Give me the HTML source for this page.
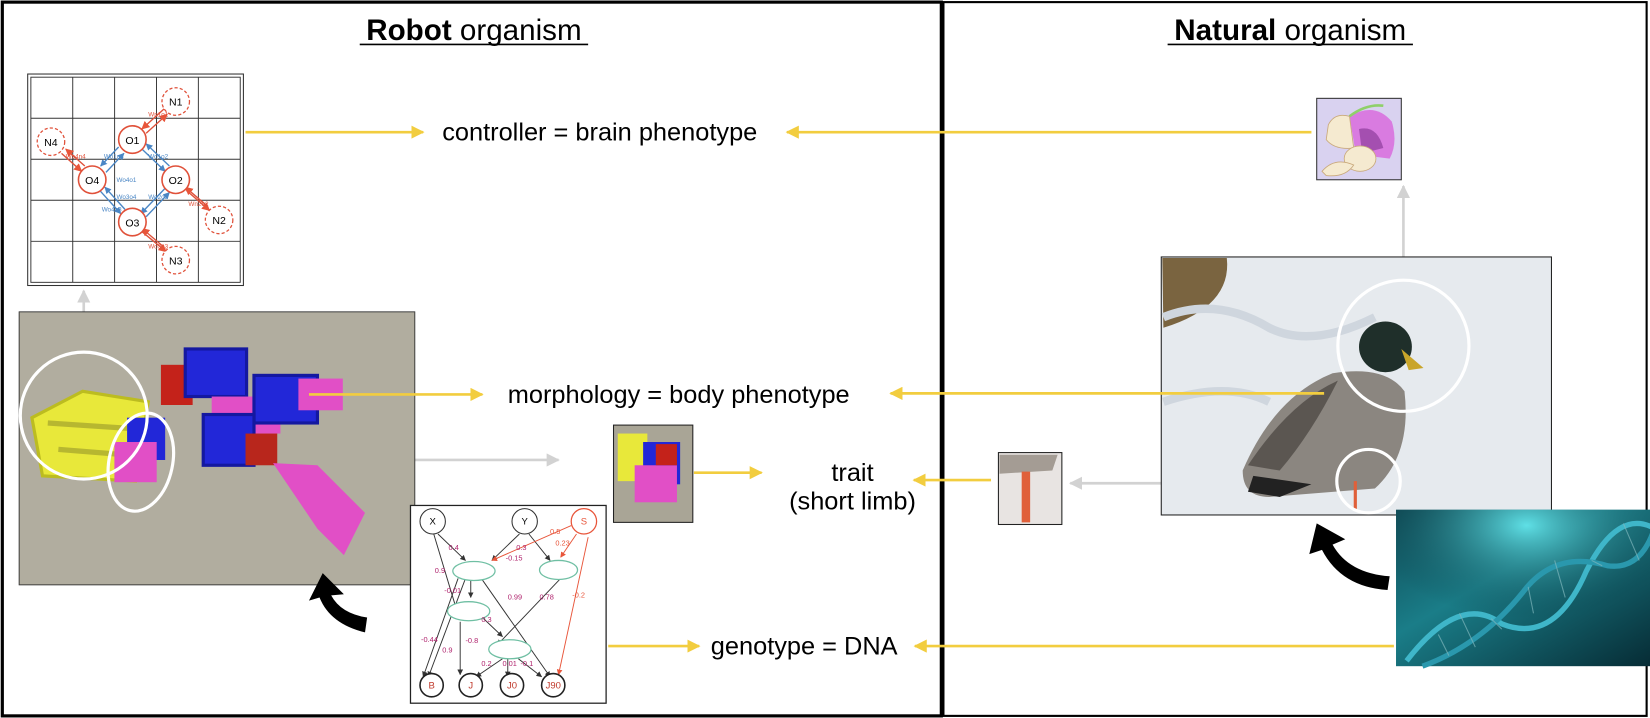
<!DOCTYPE html>
<html><head><meta charset="utf-8"><style>
html,body{margin:0;padding:0;background:#fff;}
svg{display:block;}
text{font-family:"Liberation Sans",Arial,sans-serif;}
</style></head><body>
<svg width="1650" height="718" viewBox="0 0 1560 679" xmlns="http://www.w3.org/2000/svg">
<defs>
<marker id="ay" viewBox="0 0 10 10" refX="9" refY="5" markerWidth="5" markerHeight="5" orient="auto-start-reverse"><path d="M0,0L10,5L0,10z" fill="#f2cd3f"/></marker>
<marker id="ag" viewBox="0 0 10 10" refX="9" refY="5" markerWidth="5" markerHeight="5" orient="auto-start-reverse"><path d="M0,0L10,5L0,10z" fill="#d2d2d2"/></marker>
<marker id="ab" viewBox="0 0 10 10" refX="9" refY="5" markerWidth="6" markerHeight="6" orient="auto"><path d="M0,0L10,5L0,10z" fill="#333"/></marker>
<marker id="ar" viewBox="0 0 10 10" refX="9" refY="5" markerWidth="6" markerHeight="6" orient="auto"><path d="M0,0L10,5L0,10z" fill="#e8553a"/></marker>
<marker id="abl" viewBox="0 0 10 10" refX="9" refY="5" markerWidth="5" markerHeight="5" orient="auto"><path d="M0,0L10,5L0,10z" fill="#4a86c5"/></marker>
<linearGradient id="dna" x1="0" y1="0" x2="1" y2="1"><stop offset="0" stop-color="#0f4a55"/><stop offset="0.4" stop-color="#1a7d88"/><stop offset="1" stop-color="#062a33"/></linearGradient>
<radialGradient id="glow" cx="0.5" cy="0.1" r="0.6"><stop offset="0" stop-color="#5fe0e6"/><stop offset="1" stop-color="#0b3c45" stop-opacity="0"/></radialGradient>
</defs>

<rect x="2" y="2" width="888" height="675" fill="none" stroke="#000" stroke-width="3"/>
<rect x="892" y="2" width="665" height="675" fill="none" stroke="#000" stroke-width="2"/>
<text x="448" y="38" font-size="28" text-anchor="middle"><tspan font-weight="bold">Robot</tspan> organism</text>
<line x1="340" y1="42" x2="556" y2="42" stroke="#000" stroke-width="1.5"/>
<text x="1220" y="38" font-size="28" text-anchor="middle"><tspan font-weight="bold">Natural</tspan> organism</text>
<line x1="1104" y1="42" x2="1336" y2="42" stroke="#000" stroke-width="1.5"/>

<!-- grid -->
<rect x="26" y="70" width="204" height="200" fill="#fff" stroke="#333" stroke-width="1"/>
<g stroke="#333" stroke-width="0.9">
<rect x="29" y="73" width="198" height="194" fill="none"/>
<line x1="68.6" y1="73" x2="68.6" y2="267"/><line x1="108.2" y1="73" x2="108.2" y2="267"/><line x1="147.8" y1="73" x2="147.8" y2="267"/><line x1="187.4" y1="73" x2="187.4" y2="267"/>
<line x1="29" y1="111.8" x2="227" y2="111.8"/><line x1="29" y1="150.6" x2="227" y2="150.6"/><line x1="29" y1="189.4" x2="227" y2="189.4"/><line x1="29" y1="228.2" x2="227" y2="228.2"/>
</g>
<g stroke="#4a86c5" stroke-width="1.3">
<line x1="112" y1="139" x2="95" y2="157" marker-end="url(#abl)"/><line x1="100" y1="163" x2="117" y2="145" marker-end="url(#abl)"/>
<line x1="133" y1="140" x2="156" y2="162" marker-end="url(#abl)"/><line x1="160" y1="157" x2="138" y2="136" marker-end="url(#abl)"/>
<line x1="156" y1="178" x2="133" y2="202" marker-end="url(#abl)"/><line x1="138" y1="205" x2="160" y2="182" marker-end="url(#abl)"/>
<line x1="94" y1="180" x2="114" y2="202" marker-end="url(#abl)"/><line x1="118" y1="198" x2="99" y2="177" marker-end="url(#abl)"/>
</g>
<g stroke="#e0513a" stroke-width="1.3">
<line x1="155" y1="103" x2="134" y2="122" marker-end="url(#ar)"/><line x1="138" y1="126" x2="158" y2="108" marker-end="url(#ar)"/>
<line x1="58" y1="145" x2="77" y2="162" marker-end="url(#ar)"/><line x1="80" y1="157" x2="62" y2="141" marker-end="url(#ar)"/>
<line x1="176" y1="180" x2="198" y2="199" marker-end="url(#ar)"/><line x1="196" y1="195" x2="175" y2="177" marker-end="url(#ar)"/>
<line x1="134" y1="219" x2="157" y2="238" marker-end="url(#ar)"/><line x1="154" y1="233" x2="134" y2="216" marker-end="url(#ar)"/>
</g>
<g fill="#fff" stroke="#e0513a" stroke-width="1.5">
<circle cx="125" cy="132" r="13"/><circle cx="166" cy="170" r="13"/><circle cx="125" cy="210" r="13"/><circle cx="87" cy="170" r="13"/>
</g>
<g fill="#fff" stroke="#e0513a" stroke-width="1.2" stroke-dasharray="3,2">
<circle cx="166" cy="96" r="13"/><circle cx="207" cy="208" r="13"/><circle cx="166" cy="246" r="13"/><circle cx="48" cy="134" r="13"/>
</g>
<g font-size="10" text-anchor="middle" fill="#000">
<text x="125" y="136">O1</text><text x="166" y="174">O2</text><text x="125" y="214">O3</text><text x="87" y="174">O4</text>
<text x="166" y="100">N1</text><text x="207" y="212">N2</text><text x="166" y="250">N3</text><text x="48" y="138">N4</text>
</g>
<g font-size="6" fill="#4a86c5"><text x="98" y="150">Wo1o4</text><text x="140" y="150">Wo1o2</text><text x="110" y="172">Wo4o1</text><text x="110" y="188">Wo3o4</text><text x="140" y="188">Wo2o3</text><text x="96" y="200">Wo4o3</text></g>
<g font-size="6" fill="#e0513a"><text x="140" y="110">Wn1o1</text><text x="62" y="150">Wo4n4</text><text x="178" y="195">Wn2o2</text><text x="140" y="235">Wo3n3</text></g>

<!-- grey arrows -->
<line x1="79" y1="335" x2="79" y2="275" stroke="#d2d2d2" stroke-width="2.5" marker-end="url(#ag)"/>
<line x1="160" y1="435" x2="528" y2="435" stroke="#d2d2d2" stroke-width="2.5" marker-end="url(#ag)"/>
<line x1="1327" y1="265" x2="1327" y2="176" stroke="#d2d2d2" stroke-width="2.5" marker-end="url(#ag)"/>
<line x1="1264" y1="457" x2="1012" y2="457" stroke="#d2d2d2" stroke-width="2.5" marker-end="url(#ag)"/>

<!-- robot photo -->
<rect x="18" y="295" width="374" height="258" fill="#a9a596" stroke="#222" stroke-width="1"/>
<rect x="18" y="295" width="374" height="258" fill="#bdb9ac" opacity="0.4"/>
<g>
<path d="M30,395 L78,370 L140,380 L128,455 L40,450 Z" fill="#e8e83a" stroke="#bcbc20" stroke-width="3"/>
<path d="M45,400 L120,405 M55,425 L118,430" stroke="#b7b730" stroke-width="5"/>
<rect x="152" y="345" width="30" height="38" fill="#c4221a"/>
<rect x="175" y="330" width="58" height="45" fill="#2227d8" stroke="#1418a0" stroke-width="3"/>
<rect x="200" y="375" width="65" height="35" fill="#e14fc6"/>
<rect x="240" y="355" width="60" height="45" fill="#2227d8" stroke="#1418a0" stroke-width="3"/>
<rect x="282" y="358" width="42" height="30" fill="#e14fc6"/>
<rect x="192" y="392" width="48" height="48" fill="#2227d8" stroke="#1418a0" stroke-width="3"/>
<rect x="232" y="410" width="30" height="30" fill="#b8261c"/>
<rect x="120" y="395" width="36" height="40" fill="#2227d8"/>
<rect x="108" y="418" width="40" height="38" fill="#e14fc6"/>
<path d="M258,438 L300,440 L345,485 L325,525 L300,500 Z" fill="#e14fc6"/>
</g>
<circle cx="79" cy="393" r="60" fill="none" stroke="#fff" stroke-width="3"/>
<ellipse cx="133" cy="437" rx="30" ry="47" transform="rotate(12 133 437)" fill="none" stroke="#fff" stroke-width="3"/>

<!-- small trait crop -->
<rect x="580" y="402" width="75" height="92" fill="#a9a596" stroke="#222" stroke-width="1"/>
<rect x="584" y="410" width="28" height="45" fill="#e8e83a"/>
<rect x="608" y="418" width="35" height="40" fill="#2227d8"/>
<rect x="600" y="440" width="40" height="35" fill="#e14fc6"/>
<rect x="620" y="420" width="20" height="20" fill="#c4221a"/>

<!-- CPPN -->
<rect x="388" y="478" width="185" height="187" fill="#fff" stroke="#222" stroke-width="1.2"/>
<g stroke="#333" stroke-width="0.9" fill="none">
<line x1="414" y1="505" x2="440" y2="530" marker-end="url(#ab)"/>
<line x1="410" y1="505" x2="432" y2="578" marker-end="url(#ab)"/>
<line x1="491" y1="505" x2="465" y2="530" marker-end="url(#ab)"/>
<line x1="500" y1="505" x2="520" y2="530" marker-end="url(#ab)"/>
<line x1="445" y1="547" x2="445" y2="565" marker-end="url(#ab)"/>
<line x1="455" y1="547" x2="520" y2="640" marker-end="url(#ab)"/>
<line x1="530" y1="547" x2="470" y2="610" marker-end="url(#ab)"/>
<line x1="455" y1="583" x2="475" y2="602" marker-end="url(#ab)"/>
<line x1="440" y1="547" x2="405" y2="640" marker-end="url(#ab)"/>
<line x1="433" y1="547" x2="400" y2="640" marker-end="url(#ab)"/>
<line x1="435" y1="588" x2="435" y2="638" marker-end="url(#ab)"/>
<line x1="475" y1="623" x2="450" y2="640" marker-end="url(#ab)"/>
<line x1="480" y1="623" x2="480" y2="640" marker-end="url(#ab)"/>
<line x1="490" y1="623" x2="512" y2="640" marker-end="url(#ab)"/>
</g>
<g stroke="#e8553a" stroke-width="0.9"><line x1="540" y1="497" x2="465" y2="530" marker-end="url(#ar)"/><line x1="545" y1="505" x2="530" y2="527" marker-end="url(#ar)"/><line x1="556" y1="508" x2="528" y2="638" marker-end="url(#ar)"/></g>
<g fill="#fff" stroke="#333" stroke-width="1"><circle cx="409" cy="493" r="12"/><circle cx="496" cy="493" r="12"/></g>
<circle cx="552" cy="493" r="12" fill="#fff" stroke="#e8553a" stroke-width="1.2"/>
<g fill="#fff" stroke="#6fbfa3" stroke-width="1.2"><ellipse cx="448" cy="540" rx="20" ry="9"/><ellipse cx="528" cy="539" rx="18" ry="9"/><ellipse cx="443" cy="578" rx="20" ry="9"/><ellipse cx="482" cy="614" rx="20" ry="9"/></g>
<g fill="#fff" stroke="#222" stroke-width="1.5"><circle cx="408" cy="648" r="11"/><circle cx="445" cy="648" r="11"/><circle cx="484" cy="648" r="11"/><circle cx="523" cy="648" r="11"/></g>
<g font-size="9" text-anchor="middle"><text x="409" y="496">X</text><text x="496" y="496">Y</text><text x="552" y="496" fill="#e8553a">S</text></g>
<g font-size="9" text-anchor="middle" fill="#c0392b"><text x="408" y="651">B</text><text x="445" y="651">J</text><text x="484" y="651">J0</text><text x="523" y="651">J90</text></g>
<g font-size="7" fill="#b0246e"><text x="424" y="520">0.4</text><text x="411" y="542">0.9</text><text x="488" y="520">0.3</text><text x="478" y="530">-0.15</text><text x="420" y="561">-0.01</text><text x="480" y="567">0.99</text><text x="510" y="567">0.78</text><text x="455" y="588">0.3</text><text x="398" y="607">-0.44</text><text x="418" y="617">0.9</text><text x="440" y="608">-0.8</text><text x="455" y="630">0.2</text><text x="475" y="630">0.01</text><text x="492" y="630">-0.1</text></g>
<g font-size="7" fill="#e8553a"><text x="520" y="505">0.5</text><text x="525" y="516">0.23</text><text x="541" y="565">-0.2</text></g>

<!-- brain -->
<rect x="1245" y="93" width="80" height="77" fill="#d9d2f0" stroke="#333" stroke-width="1"/>
<path d="M1276,110 Q1300,96 1316,115 Q1322,135 1314,150 L1282,146 Z" fill="#d97be0"/>
<path d="M1276,110 Q1292,98 1308,100" stroke="#8fd06a" stroke-width="2.5" fill="none"/>
<path d="M1285,122 Q1302,118 1308,140 L1288,145 Z" fill="#a44fb0"/>
<path d="M1256,118 Q1262,106 1276,110 L1280,140 Q1262,142 1254,132 Z" fill="#f5ead0" stroke="#c9a97c" stroke-width="0.8"/>
<ellipse cx="1286" cy="150" rx="15" ry="12" fill="#f5ead0" stroke="#c9a97c" stroke-width="0.8"/>
<path d="M1250,162 Q1262,148 1280,156 Q1272,168 1254,166 Z" fill="#f5ead0" stroke="#c9a97c" stroke-width="0.8"/>

<!-- duck photo -->
<rect x="1098" y="243" width="369" height="244" fill="#e6eaee" stroke="#222" stroke-width="1"/>
<path d="M1099,244 L1160,244 Q1165,290 1100,310 Z" fill="#7a6440"/>
<path d="M1100,300 Q1150,280 1200,310 Q1240,330 1300,300 M1100,380 Q1160,360 1200,380" stroke="#cfd6de" stroke-width="8" fill="none"/>
<path d="M1175,445 Q1205,375 1260,353 Q1310,345 1328,370 Q1335,430 1300,462 L1200,470 Q1175,470 1175,445 Z" fill="#8b8680"/>
<path d="M1180,440 Q1220,380 1265,360 Q1240,410 1210,445 Z" fill="#5b5651"/>
<path d="M1185,450 L1240,458 L1210,470 L1180,465 Z" fill="#222"/>
<ellipse cx="1310" cy="328" rx="25" ry="24" fill="#1f2f2a"/>
<path d="M1325,330 L1346,348 L1332,350 Z" fill="#c9a52a"/>
<rect x="1280" y="455" width="3" height="28" fill="#e0603a"/>
<circle cx="1327" cy="327" r="62" fill="none" stroke="#fff" stroke-width="3"/>
<circle cx="1294" cy="455" r="30" fill="none" stroke="#fff" stroke-width="3"/>

<!-- foot crop -->
<rect x="944" y="428" width="60" height="68" fill="#e8e4e2" stroke="#222" stroke-width="1"/>
<path d="M945,430 L1000,430 L995,445 L945,448 Z" fill="#a49c94"/>
<rect x="966" y="446" width="8" height="48" fill="#e0603a"/>

<!-- DNA -->
<rect x="1320" y="482" width="247" height="148" fill="url(#dna)"/>
<rect x="1320" y="482" width="247" height="148" fill="url(#glow)"/>
<path d="M1330,625 Q1380,560 1420,590 Q1470,610 1500,540 Q1530,480 1565,500" stroke="#3fb6c9" stroke-width="5" fill="none"/>
<path d="M1345,630 Q1400,610 1440,560 Q1470,520 1520,535 Q1555,540 1567,490" stroke="#2a98ad" stroke-width="5" fill="none"/>
<g stroke="#7fb7bd" stroke-width="1" opacity="0.7">
<line x1="1360" y1="600" x2="1370" y2="620"/><line x1="1380" y1="580" x2="1395" y2="612"/><line x1="1410" y1="585" x2="1420" y2="595"/><line x1="1450" y1="580" x2="1445" y2="555"/><line x1="1480" y1="565" x2="1470" y2="530"/><line x1="1505" y1="530" x2="1515" y2="535"/><line x1="1535" y1="495" x2="1550" y2="530"/>
</g>

<!-- curved black arrows -->
<path d="M345,598 Q312,590 302,565 L292,568 L305,542 L325,562 L313,563 Q322,580 347,584 Z" fill="#000"/>
<path d="M1312,558 Q1268,555 1250,520 L1238,524 L1245,495 L1272,510 L1260,515 Q1275,542 1314,545 Z" fill="#000"/>

<!-- yellow arrows -->
<g stroke="#f2cd3f" stroke-width="2.5">
<line x1="232" y1="125" x2="400" y2="125" marker-end="url(#ay)"/>
<line x1="1240" y1="125" x2="744" y2="125" marker-end="url(#ay)"/>
<line x1="292" y1="373" x2="456" y2="373" marker-end="url(#ay)"/>
<line x1="1252" y1="372" x2="842" y2="372" marker-end="url(#ay)"/>
<line x1="656" y1="447" x2="720" y2="447" marker-end="url(#ay)"/>
<line x1="937" y1="454" x2="864" y2="454" marker-end="url(#ay)"/>
<line x1="575" y1="611" x2="661" y2="611" marker-end="url(#ay)"/>
<line x1="1318" y1="611" x2="865" y2="611" marker-end="url(#ay)"/>
</g>
<g font-size="24" fill="#000">
<text x="418" y="133">controller = brain phenotype</text>
<text x="480" y="381">morphology = body phenotype</text>
<text x="806" y="455" text-anchor="middle">trait</text>
<text x="806" y="482" text-anchor="middle">(short limb)</text>
<text x="672" y="619">genotype = DNA</text>
</g>
</svg>
</body></html>
